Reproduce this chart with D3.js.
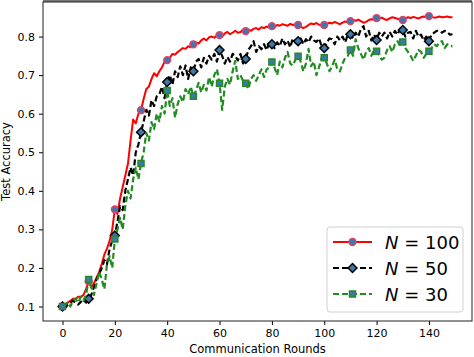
<!DOCTYPE html>
<html>
<head>
<meta charset="utf-8">
<script src="https://cdn.jsdelivr.net/npm/d3@7"></script>
<style>
  html, body { margin: 0; padding: 0; background: #fff; }
  svg { display: block; font-family: "DejaVu Sans", sans-serif; }
</style>
</head>
<body>
<svg id="chart" width="474" height="357"></svg>
<script>
const rounds = d3.range(0, 150);
const xTicks = [0, 20, 40, 60, 80, 100, 120, 140];
const yTicks = [0.1, 0.2, 0.3, 0.4, 0.5, 0.6, 0.7, 0.8];

const accN100 = [
  0.10, 0.105, 0.11, 0.115, 0.12, 0.12, 0.125, 0.125, 0.13, 0.145,
  0.165, 0.15, 0.16, 0.175, 0.19, 0.21, 0.235, 0.25, 0.27, 0.30,
  0.352, 0.34, 0.38, 0.41, 0.44, 0.47, 0.53, 0.585, 0.575, 0.60,
  0.609, 0.638, 0.664, 0.67, 0.69, 0.705, 0.697, 0.71, 0.72, 0.735,
  0.739, 0.745, 0.755, 0.753, 0.76, 0.765, 0.77, 0.768, 0.775, 0.772,
  0.780, 0.785, 0.782, 0.79, 0.795, 0.79, 0.798, 0.80, 0.797, 0.803,
  0.804, 0.80, 0.808, 0.812, 0.806, 0.81, 0.815, 0.81, 0.812, 0.818,
  0.814, 0.818, 0.815, 0.82, 0.822, 0.818, 0.824, 0.822, 0.826, 0.823,
  0.827, 0.825, 0.83, 0.828, 0.832, 0.83, 0.828, 0.833, 0.83, 0.832,
  0.830, 0.826, 0.822, 0.825, 0.83, 0.834, 0.832, 0.835, 0.831, 0.828,
  0.830, 0.833, 0.836, 0.834, 0.838, 0.835, 0.832, 0.836, 0.839, 0.837,
  0.840, 0.843, 0.841, 0.844, 0.840, 0.836, 0.838, 0.843, 0.845, 0.844,
  0.848, 0.846, 0.849, 0.845, 0.843, 0.847, 0.85, 0.848, 0.846, 0.844,
  0.843, 0.847, 0.85, 0.848, 0.851, 0.849, 0.847, 0.85, 0.852, 0.85,
  0.853, 0.851, 0.849, 0.85, 0.852, 0.85, 0.851, 0.852, 0.85, 0.85
];

const accN50 = [
  0.10, 0.10, 0.105, 0.11, 0.115, 0.11, 0.105, 0.112, 0.118, 0.11,
  0.12, 0.13, 0.15, 0.17, 0.185, 0.20, 0.22, 0.21, 0.25, 0.27,
  0.284, 0.32, 0.36, 0.35, 0.40, 0.43, 0.46, 0.44, 0.50, 0.52,
  0.552, 0.58, 0.61, 0.595, 0.635, 0.62, 0.645, 0.65, 0.67, 0.64,
  0.682, 0.70, 0.675, 0.71, 0.695, 0.723, 0.70, 0.725, 0.69, 0.72,
  0.71, 0.735, 0.742, 0.72, 0.745, 0.73, 0.75, 0.74, 0.755, 0.735,
  0.765, 0.75, 0.73, 0.747, 0.735, 0.755, 0.75, 0.738, 0.755, 0.73,
  0.742, 0.765, 0.775, 0.788, 0.76, 0.775, 0.767, 0.78, 0.765, 0.785,
  0.78, 0.77, 0.785, 0.775, 0.795, 0.78, 0.79, 0.772, 0.795, 0.785,
  0.788, 0.795, 0.78, 0.793, 0.785, 0.80, 0.79, 0.786, 0.795, 0.775,
  0.77, 0.785, 0.795, 0.793, 0.78, 0.80, 0.79, 0.80, 0.785, 0.805,
  0.806, 0.795, 0.81, 0.80, 0.82, 0.827, 0.80, 0.815, 0.79, 0.805,
  0.791, 0.81, 0.80, 0.81, 0.795, 0.812, 0.80, 0.815, 0.805, 0.82,
  0.817, 0.80, 0.81, 0.812, 0.795, 0.815, 0.80, 0.805, 0.79, 0.80,
  0.788, 0.805, 0.81, 0.815, 0.815, 0.81, 0.815, 0.812, 0.805, 0.806
];

const accN30 = [
  0.10, 0.105, 0.11, 0.10, 0.115, 0.12, 0.11, 0.125, 0.115, 0.13,
  0.17, 0.15, 0.13, 0.16, 0.19, 0.17, 0.145, 0.21, 0.23, 0.20,
  0.275, 0.30, 0.33, 0.30, 0.36, 0.40, 0.38, 0.43, 0.46, 0.43,
  0.471, 0.50, 0.55, 0.53, 0.578, 0.56, 0.60, 0.58, 0.62, 0.60,
  0.66, 0.62, 0.64, 0.59, 0.625, 0.645, 0.63, 0.664, 0.65, 0.67,
  0.645, 0.66, 0.68, 0.655, 0.675, 0.66, 0.695, 0.67, 0.70, 0.715,
  0.679, 0.61, 0.67, 0.69, 0.675, 0.71, 0.737, 0.69, 0.70, 0.685,
  0.679, 0.664, 0.69, 0.70, 0.685, 0.70, 0.715, 0.695, 0.715, 0.72,
  0.734, 0.72, 0.70, 0.735, 0.72, 0.745, 0.76, 0.73, 0.725, 0.74,
  0.749, 0.735, 0.71, 0.73, 0.768, 0.723, 0.735, 0.70, 0.72, 0.745,
  0.745, 0.73, 0.71, 0.723, 0.74, 0.715, 0.71, 0.73, 0.745, 0.75,
  0.765, 0.75, 0.793, 0.77, 0.755, 0.74, 0.76, 0.77, 0.75, 0.765,
  0.762, 0.75, 0.74, 0.745, 0.765, 0.775, 0.76, 0.78, 0.788, 0.775,
  0.786, 0.77, 0.76, 0.75, 0.737, 0.75, 0.765, 0.76, 0.745, 0.755,
  0.762, 0.77, 0.78, 0.775, 0.785, 0.788, 0.77, 0.78, 0.775, 0.775
];

const series = [
  { label: "100", values: accN100, color: "#ff0000", dash: null, marker: "circle", edge: "#e0406a" },
  { label: "50", values: accN50, color: "#000000", dash: "6,3", marker: "diamond", edge: "#000000" },
  { label: "30", values: accN30, color: "#228b22", dash: "6,3", marker: "square", edge: "#228b22" }
];
const markerFill = "#3d78ad";

const svg = d3.select("#chart");
const L = 43, R = 472, T = 2, B = 321;
const x = d3.scaleLinear().domain([-7.45, 156.45]).range([L, R]);
const y = d3.scaleLinear().domain([0.0624, 0.8896]).range([B, T]);

const line = d3.line().x((d, i) => x(rounds[i])).y(d => y(d));
const symbolFor = {
  circle: d3.symbol().type(d3.symbolCircle).size(36),
  diamond: d3.symbol().type(d3.symbolDiamond2).size(50),
  square: d3.symbol().type(d3.symbolSquare).size(36)
};

const plot = svg.append("g");
series.forEach(s => {
  plot.append("path")
    .attr("d", line(s.values))
    .attr("fill", "none")
    .attr("stroke", s.color)
    .attr("stroke-width", s.dash ? 2.2 : 2)
    .attr("stroke-linejoin", "round")
    .attr("stroke-dasharray", s.dash);
  const idx = rounds.filter(r => r % 10 === 0);
  plot.selectAll(null).data(idx).enter().append("path")
    .attr("d", symbolFor[s.marker]())
    .attr("transform", r => `translate(${x(r)},${y(s.values[r])})`)
    .attr("fill", markerFill)
    .attr("stroke", s.edge)
    .attr("stroke-width", 1.5);
});

const xAxis = svg.append("g").attr("transform", `translate(0,${B})`)
  .call(d3.axisBottom(x).tickValues(xTicks).tickSize(4).tickPadding(4).tickFormat(d3.format("d")));
const yAxis = svg.append("g").attr("transform", `translate(${L},0)`)
  .call(d3.axisLeft(y).tickValues(yTicks).tickSize(4).tickPadding(4).tickFormat(d3.format(".1f")));
[xAxis, yAxis].forEach(g => {
  g.select(".domain").remove();
  g.selectAll("text").attr("font-family", "DejaVu Sans").attr("font-size", 11).attr("fill", "#000");
  g.selectAll("line").attr("stroke", "#000").attr("stroke-width", 1);
});

// top band (cropped figure edge)
svg.append("rect").attr("x", L).attr("y", 0).attr("width", R - L).attr("height", 2)
  .attr("fill", "#777");
svg.append("rect")
  .attr("x", L).attr("y", T).attr("width", R - L).attr("height", B - T)
  .attr("fill", "none").attr("stroke", "#222").attr("stroke-width", 1);

svg.append("text")
  .attr("x", (L + R) / 2).attr("y", 353)
  .attr("text-anchor", "middle")
  .attr("font-size", 11.5).attr("fill", "#000")
  .text("Communication Rounds");
svg.append("text")
  .attr("transform", `translate(10,${(T + B) / 2}) rotate(-90)`)
  .attr("text-anchor", "middle")
  .attr("font-size", 11.5).attr("fill", "#000")
  .text("Test Accuracy");

const lg = svg.append("g").attr("transform", "translate(327,227)");
lg.append("rect")
  .attr("width", 136).attr("height", 85).attr("rx", 3)
  .attr("fill", "#fff").attr("fill-opacity", 0.85)
  .attr("stroke", "#d0d0d0").attr("stroke-width", 1);
series.forEach((s, i) => {
  const cy = 15 + i * 26;
  lg.append("line")
    .attr("x1", 6).attr("x2", 45).attr("y1", cy).attr("y2", cy)
    .attr("stroke", s.color).attr("stroke-width", 2)
    .attr("stroke-dasharray", s.dash);
  lg.append("path")
    .attr("d", symbolFor[s.marker]())
    .attr("transform", `translate(25.5,${cy})`)
    .attr("fill", markerFill).attr("stroke", s.edge).attr("stroke-width", 1.5);
  const t = lg.append("text").attr("x", 58).attr("y", cy + 6.5)
    .attr("font-size", 18).attr("fill", "#000");
  t.append("tspan").attr("font-style", "italic").text("N");
  t.append("tspan").text(" = " + s.label);
});
</script>
</body>
</html>
